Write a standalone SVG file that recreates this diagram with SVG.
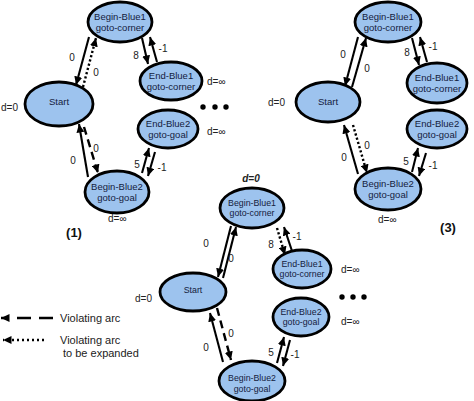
<svg xmlns="http://www.w3.org/2000/svg" width="474" height="401" viewBox="0 0 474 401">
<defs>
<marker id="ah" markerUnits="userSpaceOnUse" markerWidth="9" markerHeight="8" refX="8.5" refY="4" orient="auto">
<path d="M0,0 L8.5,4 L0,8 z" fill="#000"/>
</marker>
<style>
.n ellipse{fill:#9dc3ee;stroke:#000;stroke-width:2.8}
.n text{font-family:"Liberation Sans",Arial,sans-serif;font-size:9.5px;fill:#14213d;text-anchor:middle}
.m text{font-size:8.8px}
.e line{stroke:#000;stroke-width:2.1;marker-end:url(#ah)}
.e .dot{stroke-dasharray:2.2 2.2;stroke-width:2.4}
.e .dash{stroke-dasharray:8 5;stroke-width:2.4}
.l{font-family:"Liberation Sans",Arial,sans-serif;font-size:10px;fill:#222}
.lc{text-anchor:middle}
.big{font-family:"Liberation Sans",Arial,sans-serif;font-size:13px;font-weight:bold;fill:#111;text-anchor:middle}
.lg{font-family:"Liberation Sans",Arial,sans-serif;font-size:11px;fill:#222}
</style>
</defs>
<rect width="474" height="401" fill="#fff"/>

<!-- connectors -->
<g id="connectors" class="e">
<!-- diagram 1 -->
<line x1="89" y1="37" x2="76" y2="85"/>
<line class="dot" x1="83" y1="87" x2="96" y2="38"/>
<line x1="142" y1="38" x2="148" y2="64"/>
<line x1="157" y1="62" x2="150" y2="37"/>
<line x1="88" y1="177" x2="79" y2="124"/>
<line class="dash" x1="84" y1="127" x2="98" y2="173"/>
<line x1="142" y1="173" x2="149" y2="148"/>
<line x1="155" y1="152" x2="148" y2="176"/>
<!-- diagram 3 -->
<line x1="358" y1="37" x2="345" y2="86"/>
<line x1="352" y1="87" x2="366" y2="38"/>
<line x1="412" y1="38" x2="419" y2="65"/>
<line x1="427" y1="62" x2="420" y2="37"/>
<line x1="358" y1="174" x2="344" y2="125"/>
<line class="dot" x1="353" y1="125" x2="367" y2="173"/>
<line x1="412" y1="172" x2="418" y2="148"/>
<line x1="426" y1="153" x2="419" y2="176"/>
<!-- diagram 2 -->
<line x1="231" y1="226" x2="218" y2="277"/>
<line x1="223" y1="278" x2="236" y2="227"/>
<line class="dot" x1="277" y1="228" x2="285" y2="255"/>
<line x1="292" y1="251" x2="284" y2="227"/>
<line class="dash" x1="217" y1="308" x2="231" y2="360"/>
<line x1="223" y1="362" x2="210" y2="313"/>
<line x1="277" y1="363" x2="284" y2="337"/>
<line x1="290" y1="340" x2="283" y2="366"/>
<!-- legend -->
<line class="dash" x1="53" y1="318" x2="1" y2="318" style="stroke-dasharray:14 8;stroke-width:2.6"/>
<line class="dot" x1="44" y1="340" x2="3" y2="340" style="stroke-dasharray:2 3"/>
</g>

<!-- diagram 1 nodes -->
<g id="d1-begin-blue1" class="n"><ellipse cx="120" cy="22" rx="32" ry="20"/><text x="120" y="19.5">Begin-Blue1</text><text x="120" y="30.5">goto-corner</text></g>
<g id="d1-end-blue1" class="n"><ellipse cx="171" cy="81" rx="31" ry="19"/><text x="171" y="78.5">End-Blue1</text><text x="171" y="89.5">goto-corner</text></g>
<g id="d1-start" class="n"><ellipse cx="59" cy="104" rx="34" ry="22"/><text x="59" y="105">Start</text></g>
<g id="d1-end-blue2" class="n"><ellipse cx="168" cy="129" rx="30" ry="19"/><text x="168" y="126.5">End-Blue2</text><text x="168" y="137.5">goto-goal</text></g>
<g id="d1-begin-blue2" class="n"><ellipse cx="117" cy="192" rx="32" ry="21"/><text x="117" y="189.5">Begin-Blue2</text><text x="117" y="200.5">goto-goal</text></g>

<!-- diagram 3 nodes -->
<g id="d3-begin-blue1" class="n"><ellipse cx="388" cy="22" rx="33" ry="20"/><text x="388" y="19.5">Begin-Blue1</text><text x="388" y="30.5">goto-corner</text></g>
<g id="d3-end-blue1" class="n"><ellipse cx="437" cy="83" rx="30" ry="20"/><text x="437" y="80.5">End-Blue1</text><text x="437" y="91.5">goto-corner</text></g>
<g id="d3-start" class="n"><ellipse cx="328" cy="102" rx="32" ry="20"/><text x="328" y="105">Start</text></g>
<g id="d3-end-blue2" class="n"><ellipse cx="437" cy="129" rx="30" ry="19"/><text x="437" y="126.5">End-Blue2</text><text x="437" y="137.5">goto-goal</text></g>
<g id="d3-begin-blue2" class="n"><ellipse cx="388" cy="189" rx="33" ry="21"/><text x="388" y="186.5">Begin-Blue2</text><text x="388" y="197.5">goto-goal</text></g>

<!-- diagram 2 nodes -->
<g id="d2-begin-blue1" class="n m"><ellipse cx="252" cy="208" rx="32" ry="20"/><text x="252" y="205.5">Begin-Blue1</text><text x="252" y="216">goto-corner</text></g>
<g id="d2-end-blue1" class="n m"><ellipse cx="302" cy="269" rx="29" ry="19"/><text x="302" y="266.5">End-Blue1</text><text x="302" y="277">goto-corner</text></g>
<g id="d2-start" class="n m"><ellipse cx="193" cy="292" rx="33" ry="19"/><text x="193" y="293">Start</text></g>
<g id="d2-end-blue2" class="n m"><ellipse cx="301" cy="317" rx="28" ry="19"/><text x="301" y="314.5">End-Blue2</text><text x="301" y="325">goto-goal</text></g>
<g id="d2-begin-blue2" class="n m"><ellipse cx="252" cy="381" rx="33" ry="20"/><text x="252" y="380.5">Begin-Blue2</text><text x="252" y="392">goto-goal</text></g>

<!-- edge labels -->
<g id="labels">
<text class="l lc" x="72" y="61">0</text>
<text class="l lc" x="96" y="76">0</text>
<text class="l lc" x="136" y="59">8</text>
<text class="l lc" x="163" y="52">-1</text>
<text class="l lc" x="73" y="164">0</text>
<text class="l lc" x="96" y="152">0</text>
<text class="l lc" x="137" y="168">5</text>
<text class="l lc" x="162" y="171">-1</text>

<text class="l lc" x="343" y="58">0</text>
<text class="l lc" x="367" y="72">0</text>
<text class="l lc" x="407" y="56">8</text>
<text class="l lc" x="433" y="50">-1</text>
<text class="l lc" x="344" y="161">0</text>
<text class="l lc" x="367" y="149">0</text>
<text class="l lc" x="406" y="165">5</text>
<text class="l lc" x="433" y="169">-1</text>

<text class="l lc" x="206" y="247">0</text>
<text class="l lc" x="231" y="262">0</text>
<text class="l lc" x="271" y="248">8</text>
<text class="l lc" x="297" y="240">-1</text>
<text class="l lc" x="231" y="337">0</text>
<text class="l lc" x="206" y="351">0</text>
<text class="l lc" x="271" y="356">5</text>
<text class="l lc" x="295" y="358">-1</text>

<text class="l" x="1" y="111">d=0</text>
<text class="l" x="207" y="85">d=∞</text>
<text class="l" x="207" y="135">d=∞</text>
<text class="l" x="108" y="222">d=∞</text>
<text class="l" x="268" y="106">d=0</text>
<text class="l" x="378" y="223">d=∞</text>
<text class="l" x="135" y="302">d=0</text>
<text class="l" x="341" y="273">d=∞</text>
<text class="l" x="341" y="325">d=∞</text>
<text class="l lc" x="251" y="182" style="font-weight:bold;font-style:italic">d=0</text>

<text class="big" x="74" y="237">(1)</text>
<text class="big" x="448" y="232">(3)</text>

<text class="lg" x="60" y="322">Violating arc</text>
<text class="lg" x="60" y="344">Violating arc</text>
<text class="lg" x="63" y="357">to be expanded</text>
</g>

<g id="ellipsis1" fill="#000"><circle cx="203" cy="107" r="2.7"/><circle cx="215" cy="107" r="2.7"/><circle cx="226" cy="107" r="2.7"/></g>
<g id="ellipsis2" fill="#000"><circle cx="342" cy="297" r="2.7"/><circle cx="353" cy="297" r="2.7"/><circle cx="364" cy="297" r="2.7"/></g>
</svg>
